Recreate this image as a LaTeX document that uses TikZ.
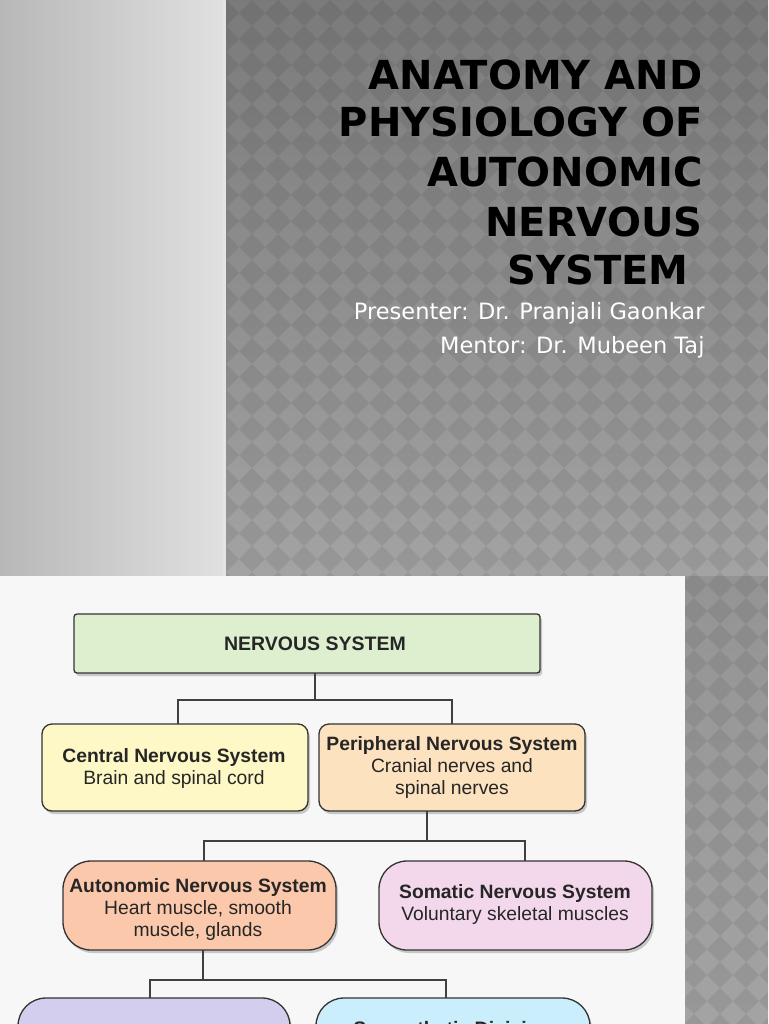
\documentclass[tikz,border=0pt]{standalone}
\usepackage{fontspec}
\setmainfont{DejaVu Sans}
\newfontfamily\arial{Liberation Sans}
\usetikzlibrary{shadows}
\definecolor{ngreen}{HTML}{DDEFCF}
\definecolor{nyellow}{HTML}{FDF8C6}
\definecolor{norange}{HTML}{FDE2BF}
\definecolor{nsalmon}{HTML}{FBC8AC}
\definecolor{npink}{HTML}{F3D8EC}
\definecolor{nlav}{HTML}{D3CEEE}
\definecolor{nblue}{HTML}{CBEEFC}
\tikzset{
 fbox/.style={draw=black!80, line width=1.3pt, drop shadow={shadow xshift=2pt,shadow yshift=-3pt,opacity=0.4}},
 conn/.style={draw=black!75, line width=1.2pt},
 ttl/.style={anchor=east, font=\bfseries\fontsize{40}{40}\selectfont, text=black},
 sub/.style={anchor=east, font=\fontsize{22.5}{22.5}\selectfont, text=white},
 bt/.style={font=\arial\bfseries\fontsize{19.5}{22}\selectfont, text=black!85},
 nt/.style={font=\arial\fontsize{19.3}{22}\selectfont, text=black!85, align=center}
}
\begin{document}
\begin{tikzpicture}[x=1pt,y=-1pt]
\useasboundingbox (0,0) rectangle (768,1024);
\clip (0,0) rectangle (768,1024);
% left panel
\shade[left color=black!28, right color=black!12] (0,0) rectangle (224,576);
\fill[white!90!black] (223,0) rectangle (226,576);
% checkered area
\shade[top color=black!52, bottom color=black!36] (226,0) rectangle (768,576);
\shade[top color=black!42, bottom color=black!36] (685,576) rectangle (768,1024);
\begin{scope}
\clip (226,0) rectangle (768,576) (685,576) rectangle (768,1024);
\foreach \i in {0,...,21}{\foreach \j in {0,...,40}{
 \fill[black, opacity=0.07] (226+26*\i,26*\j) -- ++(13,13) -- ++(-13,13) -- ++(-13,-13) -- cycle;}}
\end{scope}
% title
\node[ttl] (t1) at (706,75) {ANATOMY AND};
\node[ttl] (t2) at (706,122) {PHYSIOLOGY OF};
\node[ttl] (t3) at (706,172) {AUTONOMIC};
\node[ttl] (t4) at (706,222) {NERVOUS};
\node[ttl] (t5) at (692,270) {SYSTEM};
\node[sub] (s1) at (708,313) {Presenter: Dr. Pranjali Gaonkar};
\node[sub] (s2) at (708,347) {Mentor: Dr. Mubeen Taj};
% lower white
\fill[black!3] (0,576) rectangle (685,1024);
% boxes
\path[fbox, fill=ngreen, rounded corners=3pt] (74,614) rectangle (540,673);
\node[bt] (ns) at (315,644) {NERVOUS SYSTEM};
\path[fbox, fill=nyellow, rounded corners=10pt] (42,724) rectangle (308,811);
\node[nt] (cns) at (174,769) {\bfseries Central Nervous System\\Brain and spinal cord};
\path[fbox, fill=norange, rounded corners=10pt] (319,724) rectangle (585,811);
\node[nt] (pns) at (452,768) {\bfseries Peripheral Nervous System\\Cranial nerves and\\spinal nerves};
\path[fbox, fill=nsalmon, rounded corners=28pt] (63,861) rectangle (336,950);
\node[nt] (ans) at (198,909) {\bfseries Autonomic Nervous System\\Heart muscle, smooth\\muscle, glands};
\path[fbox, fill=npink, rounded corners=28pt] (379,861) rectangle (652,950);
\node[nt] (sns) at (515,904) {\bfseries Somatic Nervous System\\Voluntary skeletal muscles};
\path[fbox, fill=nlav, rounded corners=28pt] (18,998) rectangle (290,1090);
\path[fbox, fill=nblue, rounded corners=28pt] (316,998) rectangle (590,1090);
\node[bt] (sym) at (452,1030) {Sympathetic Division};
% connectors
\coordinate (a1) at (315,673); \coordinate (a2) at (315,700);
\draw[conn] (a1) -- (a2) (178,724) |- (a2) -| (452,724);
\coordinate (b1) at (427,811); \coordinate (b2) at (427,841);
\draw[conn] (b1) -- (b2) (204,861) |- (b2) -| (525,861);
\coordinate (c1) at (203,950); \coordinate (c2) at (203,980);
\draw[conn] (c1) -- (c2) (150,998) |- (c2) -| (446,998);
\end{tikzpicture}
\end{document}
